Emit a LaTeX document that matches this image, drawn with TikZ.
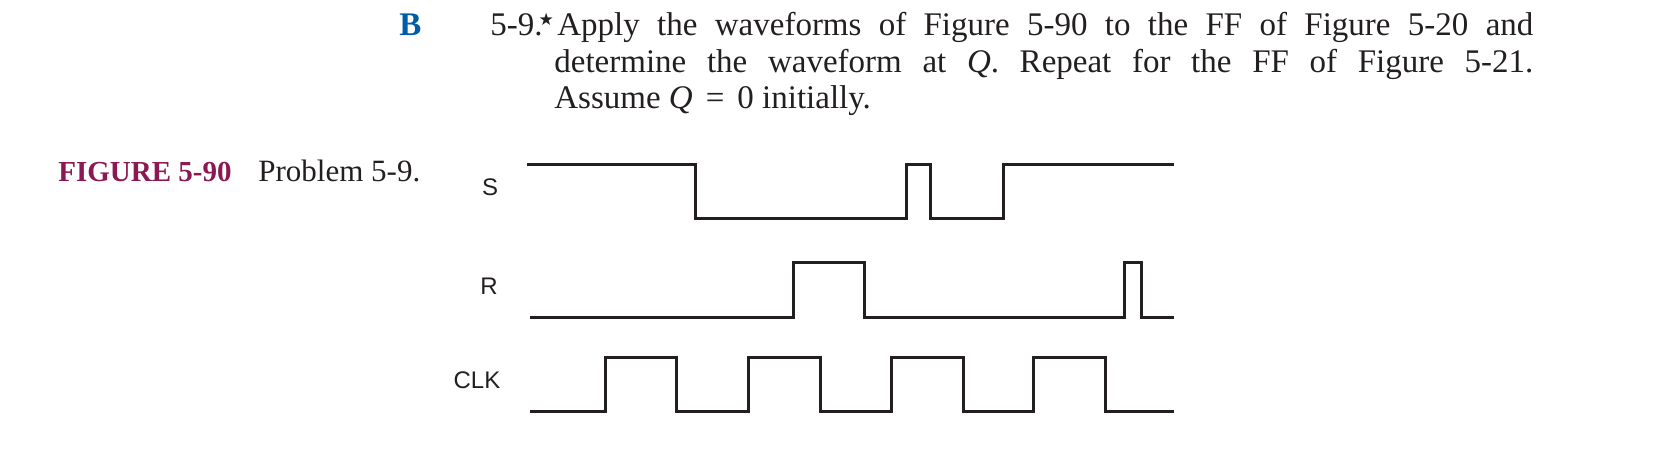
\documentclass[tikz,border=0pt]{standalone}
\usepackage{fontspec}
\setmainfont{Liberation Serif}
\newfontfamily\lsans{Liberation Sans}
\newfontfamily\djv{DejaVu Sans}
\definecolor{inkc}{RGB}{35,31,32}
\definecolor{bluec}{RGB}{0,92,168}
\definecolor{maroonc}{RGB}{139,24,82}
\begin{document}
\begin{tikzpicture}[x=0.5pt,y=-0.5pt,
  txt/.style={anchor=base west,inner sep=0,text=inkc,font=\fontsize{16.5}{18}\selectfont},
  lab/.style={inner sep=0,text=inkc,font=\lsans\fontsize{12}{14}\selectfont},
  wave/.style={line width=1.5pt,draw=inkc,line join=miter,line cap=butt}]
\useasboundingbox (0,0) rectangle (1658,450);
% header
\node[txt,text=bluec,font=\bfseries\fontsize{16.5}{18}\selectfont] (B) at (399,35) {B};
\node[txt] (num) at (490,35) {5-9.\kern-2pt\raisebox{5pt}{\djv\fontsize{8.5}{8.5}\selectfont ★}};
\node[txt] (l1) at (557,35) {\makebox[488pt][s]{Apply the waveforms of Figure 5-90 to the FF of Figure 5-20 and}};
\node[txt] (l2) at (554,72) {\makebox[489.5pt][s]{determine the waveform at \textit{Q}. Repeat for the FF of Figure 5-21.}};
\node[txt] (l3) at (554,108) {Assume \textit{Q}\hspace{6.5pt}=\hspace{6.5pt}0 initially.};
% caption
\node[txt,text=maroonc,font=\bfseries\fontsize{14.5}{18}\selectfont] (fig) at (58,181) {FIGURE 5-90};
\node[txt,font=\fontsize{15.5}{18}\selectfont] (prob) at (258,181) {Problem 5-9.};
% labels
\node[lab] (S) at (490,187) {S};
\node[lab] (R) at (489,286) {R};
\node[lab] (CLK) at (477,380) {CLK};
% waveforms
\draw[wave] (527,164) -- (695,164) -- (695,218.5) -- (906,218.5) -- (906,164) -- (930,164) -- (930,218.5) -- (1003,218.5) -- (1003,164) -- (1174,164);
\draw[wave] (530,317) -- (793,317) -- (793,262.5) -- (864,262.5) -- (864,317) -- (1124,317) -- (1124,262.5) -- (1141,262.5) -- (1141,317) -- (1174,317);
\draw[wave] (530,411.5) -- (605.5,411.5) -- (605.5,357) -- (676.5,357) -- (676.5,411.5) -- (748,411.5) -- (748,357) -- (820,357) -- (820,411.5) -- (891,411.5) -- (891,357) -- (963,357) -- (963,411.5) -- (1033,411.5) -- (1033,357) -- (1105,357) -- (1105,411.5) -- (1174,411.5);
\end{tikzpicture}
\end{document}
